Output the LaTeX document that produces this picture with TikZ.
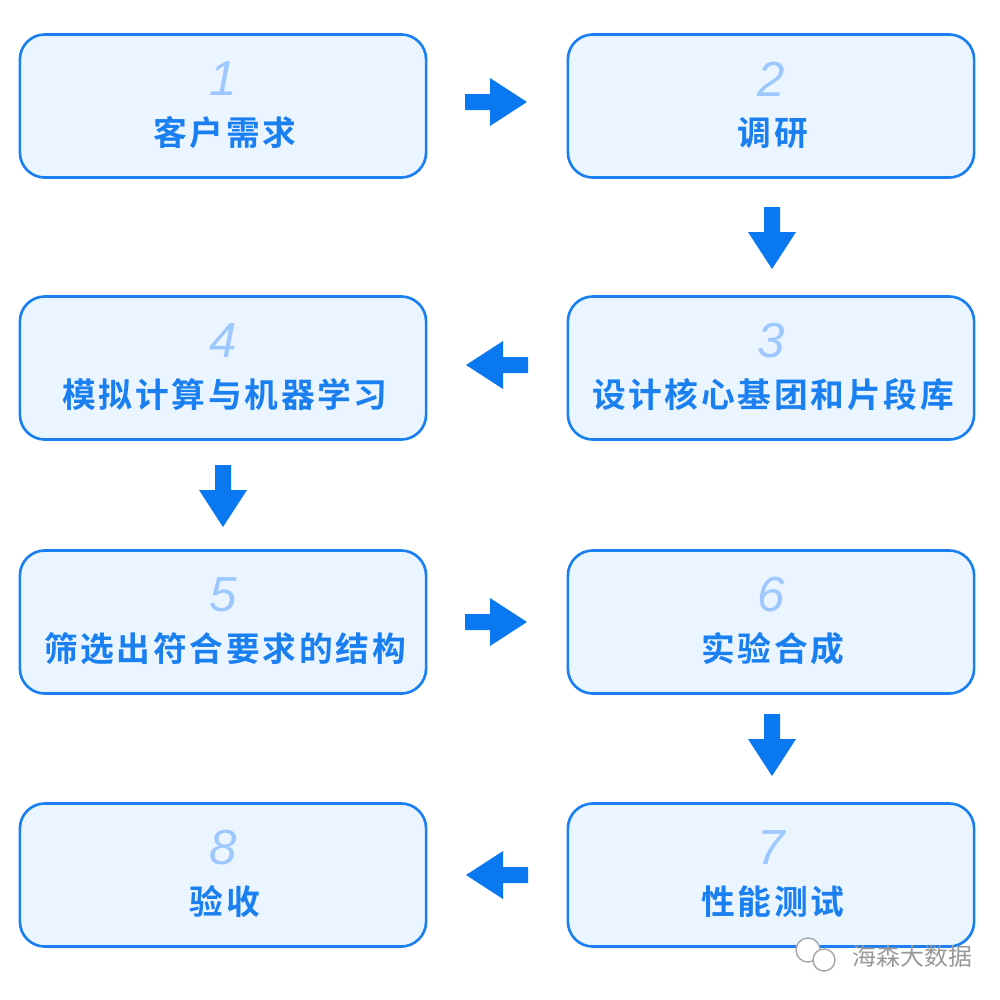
\documentclass[tikz,border=0pt]{standalone}
\usepackage{fontspec}
\usetikzlibrary{calc}
\newfontfamily\cjk{Noto Sans CJK SC Bold}[LetterSpace=8]
\newfontfamily\cjkw{Noto Sans CJK SC}
\newfontfamily\numf{Liberation Sans}
\begin{document}
\begin{tikzpicture}[x=0.01cm,y=-0.01cm,
  box/.style={draw=bd,fill=bf,line width=0.75pt,rounded corners=0.25cm,minimum width=4.06cm,minimum height=1.43cm},
  num/.style={text=nb,font=\numf\itshape\fontsize{14}{14}\selectfont},
  lab/.style={text=bd,font=\cjk\fontsize{9.6}{10}\selectfont},
  barrow/.style={fill=ab},
  wm/.style={text=gray!80,font=\cjkw\fontsize{6.8}{7}\selectfont},
  bub/.style={draw=gray!70,fill=white,circle,inner sep=0pt,line width=0.4pt}]
\definecolor{bd}{HTML}{1A7FF0}
\definecolor{bf}{HTML}{EAF5FF}
\definecolor{nb}{HTML}{9DC8FF}
\definecolor{ab}{HTML}{0A78F0}
\useasboundingbox (0,0) rectangle (1000,1000);
\fill[white] (0,0) rectangle (1000,1000);
\foreach \n/\x/\y/\t in {1/223/106/客户需求,2/771/106/调研,3/771/368/设计核心基团和片段库,4/223/368/模拟计算与机器学习,5/223/622/筛选出符合要求的结构,6/771/622/实验合成,7/771/875/性能测试,8/223/875/验收}{
  \node[box] (b\n) at (\x,\y) {};
  \node[num] (n\n) at (\x,\y-27) {\n};
  \node[lab] (t\n) at (\x+2,\y+27) {\t};
}
\newcommand\barr[3]{%
  \coordinate (#1) at #2;
  \fill[barrow,rotate around={#3:(#1)}] ($(#1)+(-31,-8)$) -- ($(#1)+(-6,-8)$) -- ($(#1)+(-6,-24)$) -- ($(#1)+(31,0)$) -- ($(#1)+(-6,24)$) -- ($(#1)+(-6,8)$) -- ($(#1)+(-31,8)$) -- cycle;}
\barr{a12}{(496,102)}{0}
\barr{a23}{(772,238)}{-90}
\barr{a34}{(497,365)}{180}
\barr{a45}{(223,496)}{-90}
\barr{a56}{(496,622)}{0}
\barr{a67}{(772,745)}{-90}
\barr{a78}{(497,875)}{180}
\node[wm,anchor=west] (wmk) at (840,956) {海森大数据};
\node[bub,minimum size=0.24cm] (wc1) at (808,950) {};
\node[bub,minimum size=0.22cm] (wc2) at (824,960) {};
\end{tikzpicture}
\end{document}
